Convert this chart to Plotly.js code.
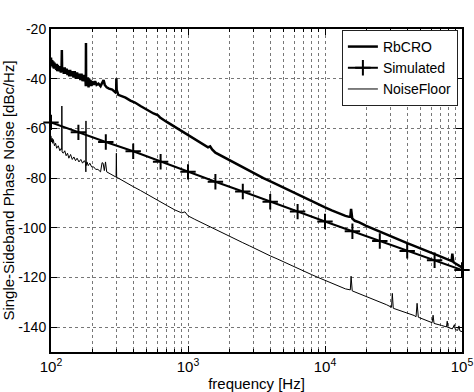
<!DOCTYPE html>
<html>
<head>
<meta charset="utf-8">
<script src="https://cdn.plot.ly/plotly-3.0.1.min.js"></script>
<style>html,body{margin:0;padding:0;background:#fff;}#chart{width:474px;height:392px;}</style>
</head>
<body>
<div id="chart"></div>
<script>
// ---- Data ----
const seriesNames = ["RbCRO", "Simulated", "NoiseFloor"];

const rbcroFreq = [100,101,102,103,104,105,106,107,108,109,110,111,112,114,116,118,119.5,120,120.5,122,124,126,128,130,132,134,136,138,140,143,146,149,152,155,158,161,164,167,170,173,176,178,179.5,180,180.5,182,184,186,188,190,192,194,197,200,205,210,215,222,230,237,242,247,255,265,280,295,299,300,301.5,310,330,350,380,410,450,500,560,600,625,700,760,800,900,1000,1120,1260,1400,1450,1500,1585,1780,2000,2240,2500,2820,3160,3550,4000,4470,5000,5620,6300,7080,7940,8910,10000,11200,12600,14100,15000,15300,15500,15800,16500,17800,20000,22400,25100,28200,31600,35500,39800,44700,50100,56200,63100,70800,79400,84000,85000,86500,89000,93000,96000,100000];
const rbcroDb   = [-31.5,-35.0,-32.5,-35.5,-33.0,-36.0,-33.5,-36.0,-34.0,-36.5,-34.0,-37.0,-34.5,-37.0,-35.0,-37.5,-35.0,-28.5,-36.0,-35.5,-38.0,-35.5,-38.0,-36.0,-38.5,-36.5,-39.0,-36.5,-39.0,-37.0,-39.5,-37.0,-40.0,-37.5,-40.0,-38.0,-40.5,-38.0,-41.0,-38.5,-41.0,-39.0,-43.0,-25.6,-43.0,-39.5,-42.5,-39.5,-43.5,-40.0,-43.0,-40.5,-43.0,-41.0,-42.5,-41.0,-42.5,-42.0,-43.0,-41.5,-40.5,-42.5,-43.5,-44.0,-44.4,-45.5,-45.0,-39.8,-44.5,-46.5,-47.0,-47.6,-48.8,-49.6,-51.0,-52.5,-54.0,-54.6,-55.6,-57.4,-58.6,-59.5,-61.2,-62.8,-64.6,-66.3,-67.6,-67.2,-68.5,-69.8,-71.3,-72.8,-74.3,-75.8,-77.2,-78.6,-80.0,-81.3,-82.6,-84.0,-85.3,-86.6,-88.0,-89.3,-90.6,-91.8,-93.0,-94.2,-95.2,-95.6,-95.6,-92.4,-96.2,-97.2,-97.8,-99.2,-100.4,-101.5,-102.7,-103.9,-105.0,-106.2,-107.3,-108.5,-109.5,-110.6,-111.7,-112.7,-113.4,-110.4,-113.8,-114.3,-115.0,-115.5,-116.0];

const simFreq = [100,158.5,251.2,398.1,631,1000,1585,2512,3981,6310,10000,15850,25120,39810,63100,100000];
const simDb   = [-57.6,-61.6,-65.5,-69.2,-73.4,-77.5,-81.5,-85.4,-89.5,-93.5,-97.5,-101.4,-105.3,-109.3,-113.1,-117.0];

const noiseFreq = [100,101,102,103,104,106,108,110,113,116,119,119.7,120,120.5,123,126,129,132,135,139,143,147,151,155,160,165,170,175,179,179.7,180,180.5,183,187,192,198,205,212,220,230,236,240,245,250,255,265,275,288,296,298.5,300,301.5,305,330,365,400,450,500,560,630,710,800,900,950,980,1000,1120,1260,1410,1585,1780,2000,2240,2510,2820,3160,3550,3980,4470,5010,5620,6310,7080,7940,8910,10000,11200,12600,14100,15300,15500,15800,17800,20000,22400,25100,28200,30600,31000,31500,35500,39800,44700,46200,47000,48000,50100,56200,60500,61500,62500,70800,77000,78000,79000,85000,88000,89500,93000,95000,96500,100000];
const noiseDb   = [-63.0,-65.5,-64.0,-66.0,-64.5,-67.0,-66.0,-68.0,-67.0,-69.0,-68.0,-68.5,-51.0,-69.5,-70.0,-69.0,-71.0,-70.0,-72.0,-70.5,-72.5,-71.5,-73.0,-72.0,-73.5,-72.5,-74.0,-73.0,-74.0,-77.5,-57.0,-75.0,-73.5,-75.0,-74.0,-75.5,-75.5,-76.5,-76.5,-77.5,-73.8,-74.0,-77.0,-73.5,-77.5,-78.0,-78.5,-79.0,-79.5,-79.0,-70.0,-80.0,-79.8,-80.8,-82.0,-83.5,-85.0,-86.5,-88.0,-89.6,-91.2,-92.8,-94.0,-93.6,-94.8,-95.2,-96.6,-98.0,-99.4,-100.8,-102.0,-103.3,-104.7,-106.0,-107.3,-108.7,-110.0,-111.3,-112.5,-113.8,-115.0,-116.3,-117.6,-118.8,-120.0,-121.2,-122.3,-123.4,-124.6,-125.0,-119.5,-125.4,-126.5,-127.6,-128.7,-129.8,-131.0,-132.0,-126.4,-132.4,-133.3,-134.3,-135.3,-135.8,-130.4,-136.0,-136.4,-137.5,-138.2,-135.2,-138.5,-139.3,-139.9,-137.6,-140.1,-140.7,-139.0,-141.0,-141.3,-139.5,-141.5,-141.8];

const xTickVals = [100, 1000, 10000, 100000];
const xTickText = ["10<sup>2</sup>", "10<sup>3</sup>", "10<sup>4</sup>", "10<sup>5</sup>"];
const yTickVals = [-140, -120, -100, -80, -60, -40, -20];
const yTickText = ["-140", "-120", "-100", "-80", "-60", "-40", "-20"];

const xTitle = "frequency [Hz]";
const yTitle = "Single-Sideband Phase Noise [dBc/Hz]";

// minor tick positions (2..9 per decade)
const minorVals = [];
for (let d = 100; d < 100000; d *= 10) {
  for (let m = 2; m <= 9; m++) minorVals.push(d * m);
}

const FONT = "Liberation Sans, Arial, Helvetica, sans-serif";
const gridCol = "#777";

const traces = [
  { x: rbcroFreq, y: rbcroDb, name: seriesNames[0], type: "scatter", mode: "lines",
    line: { color: "#000", width: 2.5 } },
  { x: simFreq, y: simDb, name: seriesNames[1], type: "scatter", mode: "lines+markers",
    line: { color: "#000", width: 2 }, cliponaxis: false,
    marker: { symbol: "cross-thin-open", size: 11, color: "#000", line: { color: "#000", width: 2 } } },
  { x: noiseFreq, y: noiseDb, name: seriesNames[2], type: "scatter", mode: "lines",
    line: { color: "#000", width: 1 } }
];

const layout = {
  width: 474, height: 392,
  margin: { l: 51, r: 12, t: 29, b: 40, pad: 0 },
  paper_bgcolor: "#fff", plot_bgcolor: "#fff",
  font: { family: FONT, size: 14, color: "#000" },
  showlegend: true,
  legend: {
    x: 0.99, xanchor: "right", y: 0.997, yanchor: "top",
    bgcolor: "#fff", bordercolor: "#222", borderwidth: 1,
    font: { family: FONT, size: 14, color: "#000" },
    tracegroupgap: 0
  },
  xaxis: {
    type: "log", range: [2, 5],
    tickmode: "array", tickvals: xTickVals, ticktext: xTickText,
    ticks: "inside", ticklen: 6, tickwidth: 1, tickcolor: "#000",
    showline: true, linewidth: 2, linecolor: "#000", mirror: "ticks",
    showgrid: true, gridcolor: gridCol, griddash: "dot", gridwidth: 1,
    minor: { tickmode: "array", tickvals: minorVals, ticks: "inside", ticklen: 3, tickcolor: "#000",
             showgrid: true, gridcolor: gridCol, griddash: "dot", gridwidth: 1 },
    tickfont: { family: FONT, size: 15, color: "#000" },
    title: { text: xTitle, font: { family: FONT, size: 15, color: "#000" }, standoff: 4 },
    zeroline: false, automargin: false
  },
  yaxis: {
    range: [-150, -20],
    tickmode: "array", tickvals: yTickVals, ticktext: yTickText,
    ticks: "inside", ticklen: 6, tickwidth: 1, tickcolor: "#000",
    showline: true, linewidth: 2, linecolor: "#000", mirror: "ticks",
    showgrid: true, gridcolor: gridCol, griddash: "dot", gridwidth: 1,
    tickfont: { family: FONT, size: 14, color: "#000" },
    title: { text: yTitle, font: { family: FONT, size: 15, color: "#000" }, standoff: 6 },
    zeroline: false, automargin: false
  }
};

Plotly.newPlot("chart", traces, layout, { displayModeBar: false, staticPlot: true });
</script>
</body>
</html>
